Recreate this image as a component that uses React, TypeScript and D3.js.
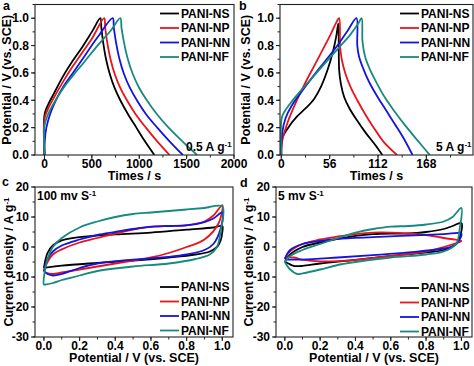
import React from 'react';
import * as d3 from 'd3';

type Pt = [number, number];

const NAMES = ['PANI-NS', 'PANI-NP', 'PANI-NN', 'PANI-NF'];
const COLORS = ['#000000', '#e8141c', '#1414e0', '#178a7e'];

// a: charge/discharge at 0.5 A g-1  [time s, potential V]
const GCD05_NS: Pt[] = [[0, 0], [2, 0.3], [40, 0.37], [100, 0.45], [200, 0.58], [300, 0.69], [400, 0.79], [500, 0.9], [590, 1.0],
  [600, 0.93], [620, 0.82], [650, 0.7], [690, 0.59], [740, 0.49], [800, 0.4], [880, 0.3], [970, 0.2], [1060, 0.1], [1160, 0]];
const GCD05_NP: Pt[] = [[0, 0], [2, 0.27], [40, 0.34], [100, 0.42], [200, 0.54], [300, 0.65], [400, 0.75], [500, 0.85], [630, 1.0],
  [641, 0.93], [663, 0.82], [697, 0.7], [742, 0.59], [800, 0.49], [870, 0.4], [960, 0.3], [1070, 0.2], [1190, 0.1], [1320, 0]];
const GCD05_NN: Pt[] = [[0, 0], [5, 0.12], [20, 0.2], [60, 0.3], [120, 0.4], [200, 0.5], [300, 0.6], [420, 0.72], [560, 0.86], [720, 1.0],
  [732, 0.93], [756, 0.82], [792, 0.7], [840, 0.59], [902, 0.49], [975, 0.4], [1070, 0.3], [1190, 0.2], [1320, 0.1], [1460, 0]];
const GCD05_NF: Pt[] = [[0, 0], [2, 0.22], [40, 0.3], [100, 0.38], [200, 0.49], [300, 0.58], [420, 0.68], [560, 0.8], [700, 0.91], [800, 1.0],
  [813, 0.93], [840, 0.82], [880, 0.7], [933, 0.59], [1000, 0.49], [1080, 0.4], [1185, 0.3], [1310, 0.2], [1455, 0.1], [1610, 0]];

// b: charge/discharge at 5 A g-1
const GCD5_NS: Pt[] = [[0, 0], [1, 0.12], [8, 0.2], [18, 0.28], [28, 0.34], [38, 0.41], [46, 0.5], [54, 0.63], [60, 0.76], [64, 0.88], [66, 0.96],
  [67, 0.62], [69, 0.52], [73, 0.42], [79, 0.34], [88, 0.25], [98, 0.16], [108, 0.08], [117, 0]];
const GCD5_NP: Pt[] = [[0, 0], [1, 0.1], [8, 0.25], [18, 0.4], [28, 0.53], [38, 0.65], [48, 0.77], [57, 0.88], [63, 0.96], [67, 1.0],
  [68, 0.8], [70, 0.7], [74, 0.6], [80, 0.5], [88, 0.4], [97, 0.3], [107, 0.2], [118, 0.1], [134, 0]];
const GCD5_NN: Pt[] = [[0, 0], [1, 0.16], [5, 0.27], [12, 0.36], [22, 0.45], [35, 0.56], [50, 0.68], [65, 0.8], [77, 0.91], [87, 1.0],
  [88, 0.8], [90, 0.72], [95, 0.63], [102, 0.53], [111, 0.43], [121, 0.33], [131, 0.23], [141, 0.13], [152, 0]];
const GCD5_NF: Pt[] = [[0, 0], [0.5, 0.27], [4, 0.32], [12, 0.39], [24, 0.48], [38, 0.58], [52, 0.68], [66, 0.78], [80, 0.88], [89, 0.96], [93, 1.0],
  [94, 0.83], [97, 0.72], [103, 0.62], [111, 0.52], [120, 0.42], [131, 0.32], [143, 0.22], [156, 0.12], [172, 0]];

// c: CV at 100 mV s-1  [potential V, current A g-1]
const CV100_NS: Pt[] = [[0, -7], [0.02, -2], [0.05, 0.5], [0.1, 2.2], [0.2, 3.3], [0.4, 4.2], [0.6, 4.8], [0.8, 5.8], [0.95, 6.5], [1.0, 7],
  [1.0, 5], [0.99, 2], [0.97, 0], [0.93, -1.5], [0.85, -2.5], [0.7, -3.5], [0.5, -4.5], [0.3, -5.3], [0.1, -6.2], [0.02, -6.8], [0, -7]];
const CV100_NP: Pt[] = [[0, -8], [0.02, -5], [0.05, -2.5], [0.1, -0.8], [0.2, 1.5], [0.3, 3], [0.4, 4.5], [0.5, 5.8], [0.6, 6.8], [0.7, 7], [0.8, 7.3], [0.9, 8.5], [0.95, 10.5], [1.0, 14],
  [0.98, 8], [0.9, 2.5], [0.8, 0], [0.7, -2], [0.6, -3.5], [0.5, -4.5], [0.4, -5.5], [0.3, -6.5], [0.2, -7.5], [0.1, -8.5], [0.05, -9], [0.01, -8.5], [0, -8]];
const CV100_NN: Pt[] = [[0, -8], [0.02, -4], [0.05, -1.5], [0.1, 0.5], [0.2, 2.5], [0.3, 4], [0.4, 5], [0.5, 6], [0.6, 6.7], [0.7, 7], [0.8, 7.2], [0.9, 8.3], [0.95, 9.5], [1.0, 11.5],
  [0.99, 6], [0.95, 1], [0.9, -1], [0.8, -2.5], [0.7, -3.3], [0.5, -4.2], [0.3, -5.5], [0.2, -7], [0.1, -9], [0.05, -9.5], [0.02, -9], [0, -8]];
const CV100_NF: Pt[] = [[0, -10], [0.02, -4], [0.05, 0], [0.1, 3], [0.2, 6.5], [0.3, 8.5], [0.4, 10], [0.5, 11], [0.6, 11.5], [0.7, 12], [0.8, 12.5], [0.9, 13], [1.0, 13.5],
  [0.99, 5], [0.97, 0], [0.93, -2.5], [0.85, -4], [0.7, -5.5], [0.5, -6.5], [0.3, -8], [0.2, -9.5], [0.1, -11], [0.05, -12], [0.01, -12.5], [0, -12.5], [0, -10]];

// d: CV at 5 mV s-1
const CV5_NS: Pt[] = [[0, -5], [0.03, -2.5], [0.1, 0], [0.2, 1.5], [0.3, 2.7], [0.4, 3.7], [0.5, 4.3], [0.6, 4.5], [0.7, 4.5], [0.8, 5], [0.9, 6], [0.95, 7], [1.0, 8],
  [0.99, 3], [0.97, 1], [0.9, -1], [0.8, -1.8], [0.6, -3], [0.4, -4.3], [0.2, -5.5], [0.1, -6.3], [0.05, -6.3], [0.02, -5.5], [0, -5]];
const CV5_NP: Pt[] = [[0, -4], [0.02, -2], [0.1, 1], [0.2, 2.5], [0.3, 3.5], [0.4, 4.3], [0.5, 4.8], [0.6, 4.8], [0.7, 4.5], [0.8, 4], [0.9, 3], [1.0, 2],
  [0.98, 1.5], [0.9, 0], [0.8, -1.5], [0.6, -3], [0.4, -4.3], [0.2, -4.8], [0.1, -4.2], [0.05, -3.5], [0, -3.5]];
const CV5_NN: Pt[] = [[0, -4], [0.03, -1], [0.1, 1], [0.2, 2], [0.3, 2.7], [0.5, 3.3], [0.7, 3.8], [0.9, 4.3], [1.0, 4.5],
  [0.99, 2.5], [0.96, 0.5], [0.9, -0.5], [0.7, -1.8], [0.5, -2.7], [0.3, -3.5], [0.1, -4.2], [0, -4.2]];
const CV5_NF: Pt[] = [[0, -5], [0.03, -3], [0.1, -1], [0.2, 1], [0.3, 3], [0.4, 4.8], [0.5, 6], [0.6, 6.8], [0.7, 7], [0.8, 7.5], [0.9, 8.5], [0.95, 10], [1.0, 13],
  [0.99, 6], [0.97, 1], [0.9, -1.5], [0.8, -2.5], [0.6, -3.5], [0.4, -5], [0.3, -6], [0.2, -7.5], [0.1, -8.8], [0.07, -9], [0.03, -7.5], [0, -5]];

const GCD_X_TICKS_A = [0, 500, 1000, 1500, 2000];
const GCD_X_TICKS_B = [0, 56, 112, 168];
const GCD_Y_TICKS = [0, 0.2, 0.4, 0.6, 0.8, 1.0];
const CV_X_TICKS = [0, 0.2, 0.4, 0.6, 0.8, 1.0];
const CV_Y_TICKS = [-30, -20, -10, 0, 10, 20];

const FONT = '"Liberation Sans", Arial, sans-serif';

function Sup({ base, sup }: { base: string; sup: string }) {
  return (
    <>
      {base}
      <tspan fontSize={8} baselineShift="super">{sup}</tspan>
    </>
  );
}

function Panel(props: any) {
  const {
    id, box, xDomain, yDomain, xTicks, xMinor, yTicks, yMinor, xFmt, yFmt,
    series, letter, letterPos, xTitle, yTitle, yTitleX, legendX, legendY, note, notePos,
  } = props;
  const x = d3.scaleLinear().domain(xDomain).range([box.x0, box.x1]);
  const y = d3.scaleLinear().domain(yDomain).range([box.y1, box.y0]);
  const line = d3.line<Pt>().x((d) => x(d[0])).y((d) => y(d[1])).curve(d3.curveCatmullRom.alpha(0.5));
  const xMinorTicks = d3.range(xMinor[0], xMinor[1] + 1e-9, xMinor[2]).filter((v) => v >= xDomain[0] && v <= xDomain[1]);
  const yMinorTicks = d3.range(yMinor[0], yMinor[1] + 1e-9, yMinor[2]);
  const cy = (box.y0 + box.y1) / 2;
  const cx = (box.x0 + box.x1) / 2;
  return (
    <g>
      <defs>
        <clipPath id={id}>
          <rect x={box.x0} y={box.y0} width={box.x1 - box.x0} height={box.y1 - box.y0} />
        </clipPath>
      </defs>
      <g clipPath={`url(#${id})`} fill="none" strokeWidth={1.8} strokeLinejoin="round">
        {series.map((s: Pt[], i: number) => (
          <path key={i} d={line(s) || ''} stroke={COLORS[i]} />
        ))}
      </g>
      <rect x={box.x0} y={box.y0} width={box.x1 - box.x0} height={box.y1 - box.y0} fill="none" stroke="#222" strokeWidth={1.1} />
      {xMinorTicks.map((v, i) => (
        <line key={'xm' + i} x1={x(v)} x2={x(v)} y1={box.y1} y2={box.y1 + 2.5} stroke="#222" strokeWidth={1} />
      ))}
      {xTicks.map((v: number) => (
        <g key={'x' + v}>
          <line x1={x(v)} x2={x(v)} y1={box.y1} y2={box.y1 + 4} stroke="#222" strokeWidth={1.1} />
          <text x={x(v)} y={box.y1 + 12.5} textAnchor="middle" fontSize={12} fontWeight="bold">{xFmt(v)}</text>
        </g>
      ))}
      {yMinorTicks.map((v, i) => (
        <line key={'ym' + i} x1={box.x0 - 2.5} x2={box.x0} y1={y(v)} y2={y(v)} stroke="#222" strokeWidth={1} />
      ))}
      {yTicks.map((v: number) => (
        <g key={'y' + v}>
          <line x1={box.x0 - 4} x2={box.x0} y1={y(v)} y2={y(v)} stroke="#222" strokeWidth={1.1} />
          <text x={box.x0 - 6} y={y(v) + 4.3} textAnchor="end" fontSize={12} fontWeight="bold">{yFmt(v)}</text>
        </g>
      ))}
      <text x={cx} y={box.y1 + 24.5} textAnchor="middle" fontSize={12.5} fontWeight="bold">{xTitle}</text>
      <text transform={`translate(${yTitleX},${cy}) rotate(-90)`} textAnchor="middle" fontSize={12.5} fontWeight="bold">{yTitle}</text>
      <text x={letterPos[0]} y={letterPos[1]} fontSize={12.5} fontWeight="bold">{letter}</text>
      <text x={notePos[0]} y={notePos[1]} fontSize={12} fontWeight="bold">{note}</text>
      {NAMES.map((n, i) => (
        <g key={n}>
          <line x1={legendX} x2={legendX + 19} y1={legendY + i * 14.5} y2={legendY + i * 14.5} stroke={COLORS[i]} strokeWidth={1.8} />
          <text x={legendX + 21} y={legendY + i * 14.5 + 4.3} fontSize={12} fontWeight="bold">{n}</text>
        </g>
      ))}
    </g>
  );
}

export default function App() {
  const fmt1 = d3.format('.1f');
  const fmt0 = (v: number) => String(v);
  const topBox = { y0: 4.5, y1: 155 };
  const botBox = { y0: 187, y1: 337 };
  return (
    <div>
      <style>{'body{margin:0}'}</style>
      <svg width={474} height={366} style={{ display: 'block', fontFamily: FONT, background: '#fff' }}>
        <Panel
          id="ca" box={{ x0: 35, x1: 234, ...topBox }} xDomain={[-100, 2000]} yDomain={[0, 1.1]}
          xTicks={GCD_X_TICKS_A} xMinor={[0, 2000, 250]} yTicks={GCD_Y_TICKS} yMinor={[0, 1.1, 0.1]}
          xFmt={fmt0} yFmt={fmt1}
          series={[GCD05_NS, GCD05_NP, GCD05_NN, GCD05_NF]}
          letter="a" letterPos={[3, 10]} xTitle="Times / s" yTitle="Potential / V (vs. SCE)" yTitleX={11}
          legendX={160} legendY={13.5} note={<Sup base="0.5 A g" sup="-1" />} notePos={[186, 151]}
        />
        <Panel
          id="cb" box={{ x0: 280, x1: 473, ...topBox }} xDomain={[-1.5, 222]} yDomain={[0, 1.1]}
          xTicks={GCD_X_TICKS_B} xMinor={[0, 222, 28]} yTicks={GCD_Y_TICKS} yMinor={[0, 1.1, 0.1]}
          xFmt={fmt0} yFmt={fmt1}
          series={[GCD5_NS, GCD5_NP, GCD5_NN, GCD5_NF]}
          letter="b" letterPos={[239, 10]} xTitle="Times / s" yTitle="Potential / V (vs. SCE)" yTitleX={250}
          legendX={400} legendY={13.5} note={<Sup base="5 A g" sup="-1" />} notePos={[436, 151]}
        />
        <Panel
          id="cc" box={{ x0: 35, x1: 233, ...botBox }} xDomain={[-0.05, 1.06]} yDomain={[-30, 20]}
          xTicks={CV_X_TICKS} xMinor={[0, 1.0, 0.1]} yTicks={CV_Y_TICKS} yMinor={[-30, 20, 5]}
          xFmt={fmt1} yFmt={fmt0}
          series={[CV100_NS, CV100_NP, CV100_NN, CV100_NF]}
          letter="c" letterPos={[2, 186]} xTitle="Potential / V (vs. SCE)" yTitle={<Sup base="Current density / A g" sup="-1" />} yTitleX={13}
          legendX={160} legendY={287} note={<Sup base="100 mv S" sup="-1" />} notePos={[37, 200]}
        />
        <Panel
          id="cd" box={{ x0: 276, x1: 472, ...botBox }} xDomain={[-0.05, 1.06]} yDomain={[-30, 20]}
          xTicks={CV_X_TICKS} xMinor={[0, 1.0, 0.1]} yTicks={CV_Y_TICKS} yMinor={[-30, 20, 5]}
          xFmt={fmt1} yFmt={fmt0}
          series={[CV5_NS, CV5_NP, CV5_NN, CV5_NF]}
          letter="d" letterPos={[240, 187]} xTitle="Potential / V (vs. SCE)" yTitle={<Sup base="Current density / A g" sup="-1" />} yTitleX={253}
          legendX={400} legendY={288} note={<Sup base="5 mv S" sup="-1" />} notePos={[278, 200]}
        />
      </svg>
    </div>
  );
}
